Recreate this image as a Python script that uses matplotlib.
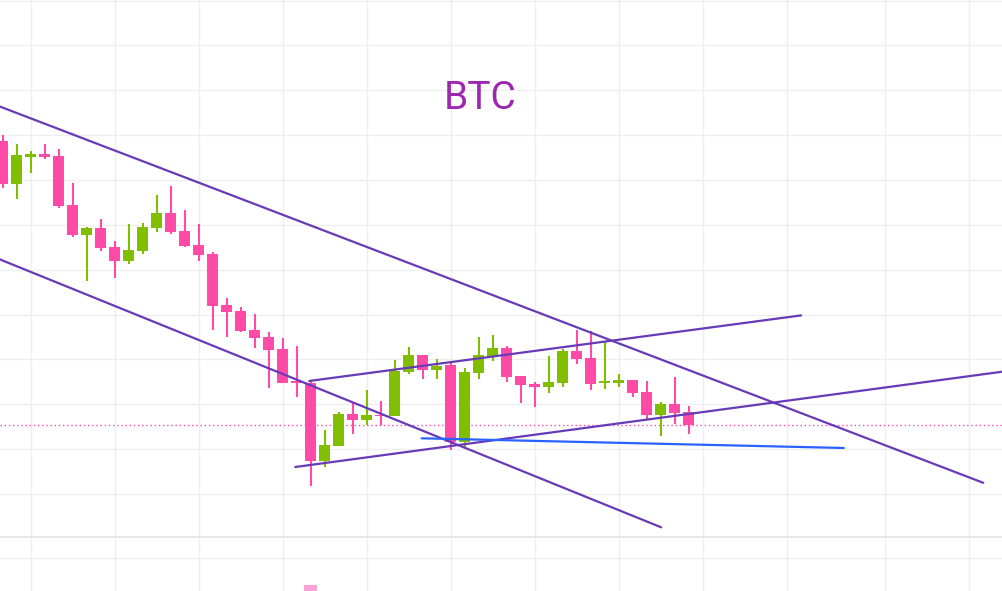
import matplotlib
matplotlib.use("Agg")
import matplotlib.pyplot as plt
from matplotlib.patches import Rectangle

# OHLC candles, one per period (index 0..49)
opens = [32935, 32459, 32760, 32790, 32768, 32222, 31891, 31965, 31754, 31601,
         31712, 31969, 32133, 31932, 31776, 31676, 31107, 31040, 30828, 30750,
         30616, 30254, 30237, 29371, 29538, 29892, 29828, 29877, 29873, 30363,
         30550, 30386, 30438, 29583, 30352, 30538, 30628, 30315, 30226, 30196,
         30241, 30594, 30516, 30241, 30241, 30271, 30137, 29884, 30003, 29914]
highs = [33002, 32902, 32824, 32902, 32846, 32467, 31977, 32066, 31820, 32010,
         32021, 32333, 32434, 32166, 32010, 31698, 31185, 31085, 31007, 30806,
         30739, 30650, 30260, 29714, 29914, 30029, 30156, 30037, 30494, 30639,
         30555, 30505, 30483, 30405, 30750, 30773, 30650, 30320, 30249, 30538,
         30616, 30828, 30817, 30706, 30338, 30275, 30260, 30029, 30304, 29981]
lows = [32415, 32289, 32582, 32738, 32192, 31868, 31378, 31712, 31411, 31567,
        31679, 31924, 31902, 31757, 31601, 30828, 30754, 30809, 30631, 30182,
        30232, 30085, 29093, 29304, 29538, 29672, 29773, 29773, 29873, 30341,
        30285, 30285, 29494, 29516, 30285, 30486, 30252, 30018, 29973, 30129,
        30196, 30453, 30163, 30174, 30196, 30085, 29839, 29650, 29784, 29672]
closes = [32459, 32779, 32790, 32760, 32214, 31891, 31965, 31746, 31601, 31720,
          31977, 32133, 31924, 31768, 31668, 31099, 31032, 30821, 30742, 30605,
          30241, 30243, 29371, 29546, 29892, 29828, 29877, 29870, 30371, 30550,
          30386, 30430, 29583, 30360, 30550, 30628, 30308, 30218, 30196, 30249,
          30594, 30508, 30230, 30249, 30271, 30129, 29884, 30003, 29903, 29773]

# Volume spike shown in the lower pane
volume_idx = [22]
volume_val = [600]

# Drawn trend lines: (x0, p0, x1, p1, colour)
trend_lines = [
    (-0.2, 33320, 70.05, 29125, "#673ab7"),   # upper channel
    (-0.2, 31616, 47.04, 28629, "#673ab7"),   # lower channel
    (21.91, 30260, 57.04, 30991, "#673ab7"),  # wedge top
    (20.91, 29301, 75.0, 30439, "#673ab7"),   # wedge bottom
    (29.94, 29621, 60.09, 29513, "#2962ff"),  # support
]

price_ticks = list(range(29000, 35000, 500))
x_grid = [2, 8, 14, 20, 26, 32, 38, 44, 50, 56, 63, 69]

UP = "#82be00"
DOWN = "#ff4aa8"
GRID = "#efefef"

W, H = 1002, 591
fig = plt.figure(figsize=(W / 100, H / 100), dpi=100)
vol_h = 54 / H
ax = fig.add_axes([0, vol_h, 1, 1 - vol_h])
axv = fig.add_axes([0, 0, 1, vol_h], sharex=ax)

for a in (ax, axv):
    for s in a.spines.values():
        s.set_visible(False)
    a.tick_params(left=False, bottom=False, labelleft=False, labelbottom=False)
    a.set_facecolor("white")
    a.set_xticks(x_grid)
    a.grid(True, color=GRID, lw=1.0, zorder=0)
    a.set_axisbelow(True)

ax.set_yticks(price_ticks)
ax.set_xlim(-0.18, 71.39)
ax.set_ylim(28520.7, 34507.2)

# Candles
body_w = 0.786
min_body = 15
for i, (o, h, l, c) in enumerate(zip(opens, highs, lows, closes)):
    col = UP if c >= o else DOWN
    ax.plot([i, i], [l, h], color=col, lw=1.5, solid_capstyle="butt", zorder=2)
    bottom = min(o, c)
    height = max(abs(c - o), min_body)
    ax.add_patch(Rectangle((i - body_w / 2, bottom), body_w, height,
                           facecolor=col, edgecolor="none", zorder=3))

# Last-price line
ax.axhline(closes[-1], color=DOWN, lw=1.0, ls=(0, (1, 2)), zorder=1)

# Trend lines
for x0, p0, x1, p1, col in trend_lines:
    ax.plot([x0, x1], [p0, p1], color=col, lw=1.6, solid_capstyle="round", zorder=4)

# Volume pane
axv.set_ylim(0, 5400)
axv.set_yticks([3300])
axv.bar(volume_idx, volume_val, width=0.93, color="#fba2d6", zorder=2)
axv.axhline(5400, color="#e3e3e3", lw=1.2, zorder=1, clip_on=False)

fig.text(480 / W, 1 - 109 / H, "BTC", color="#9c27b0", fontsize=28,
         family=["Roboto", "DejaVu Sans"], ha="center", va="baseline")

fig.savefig("out.png", dpi=100)
